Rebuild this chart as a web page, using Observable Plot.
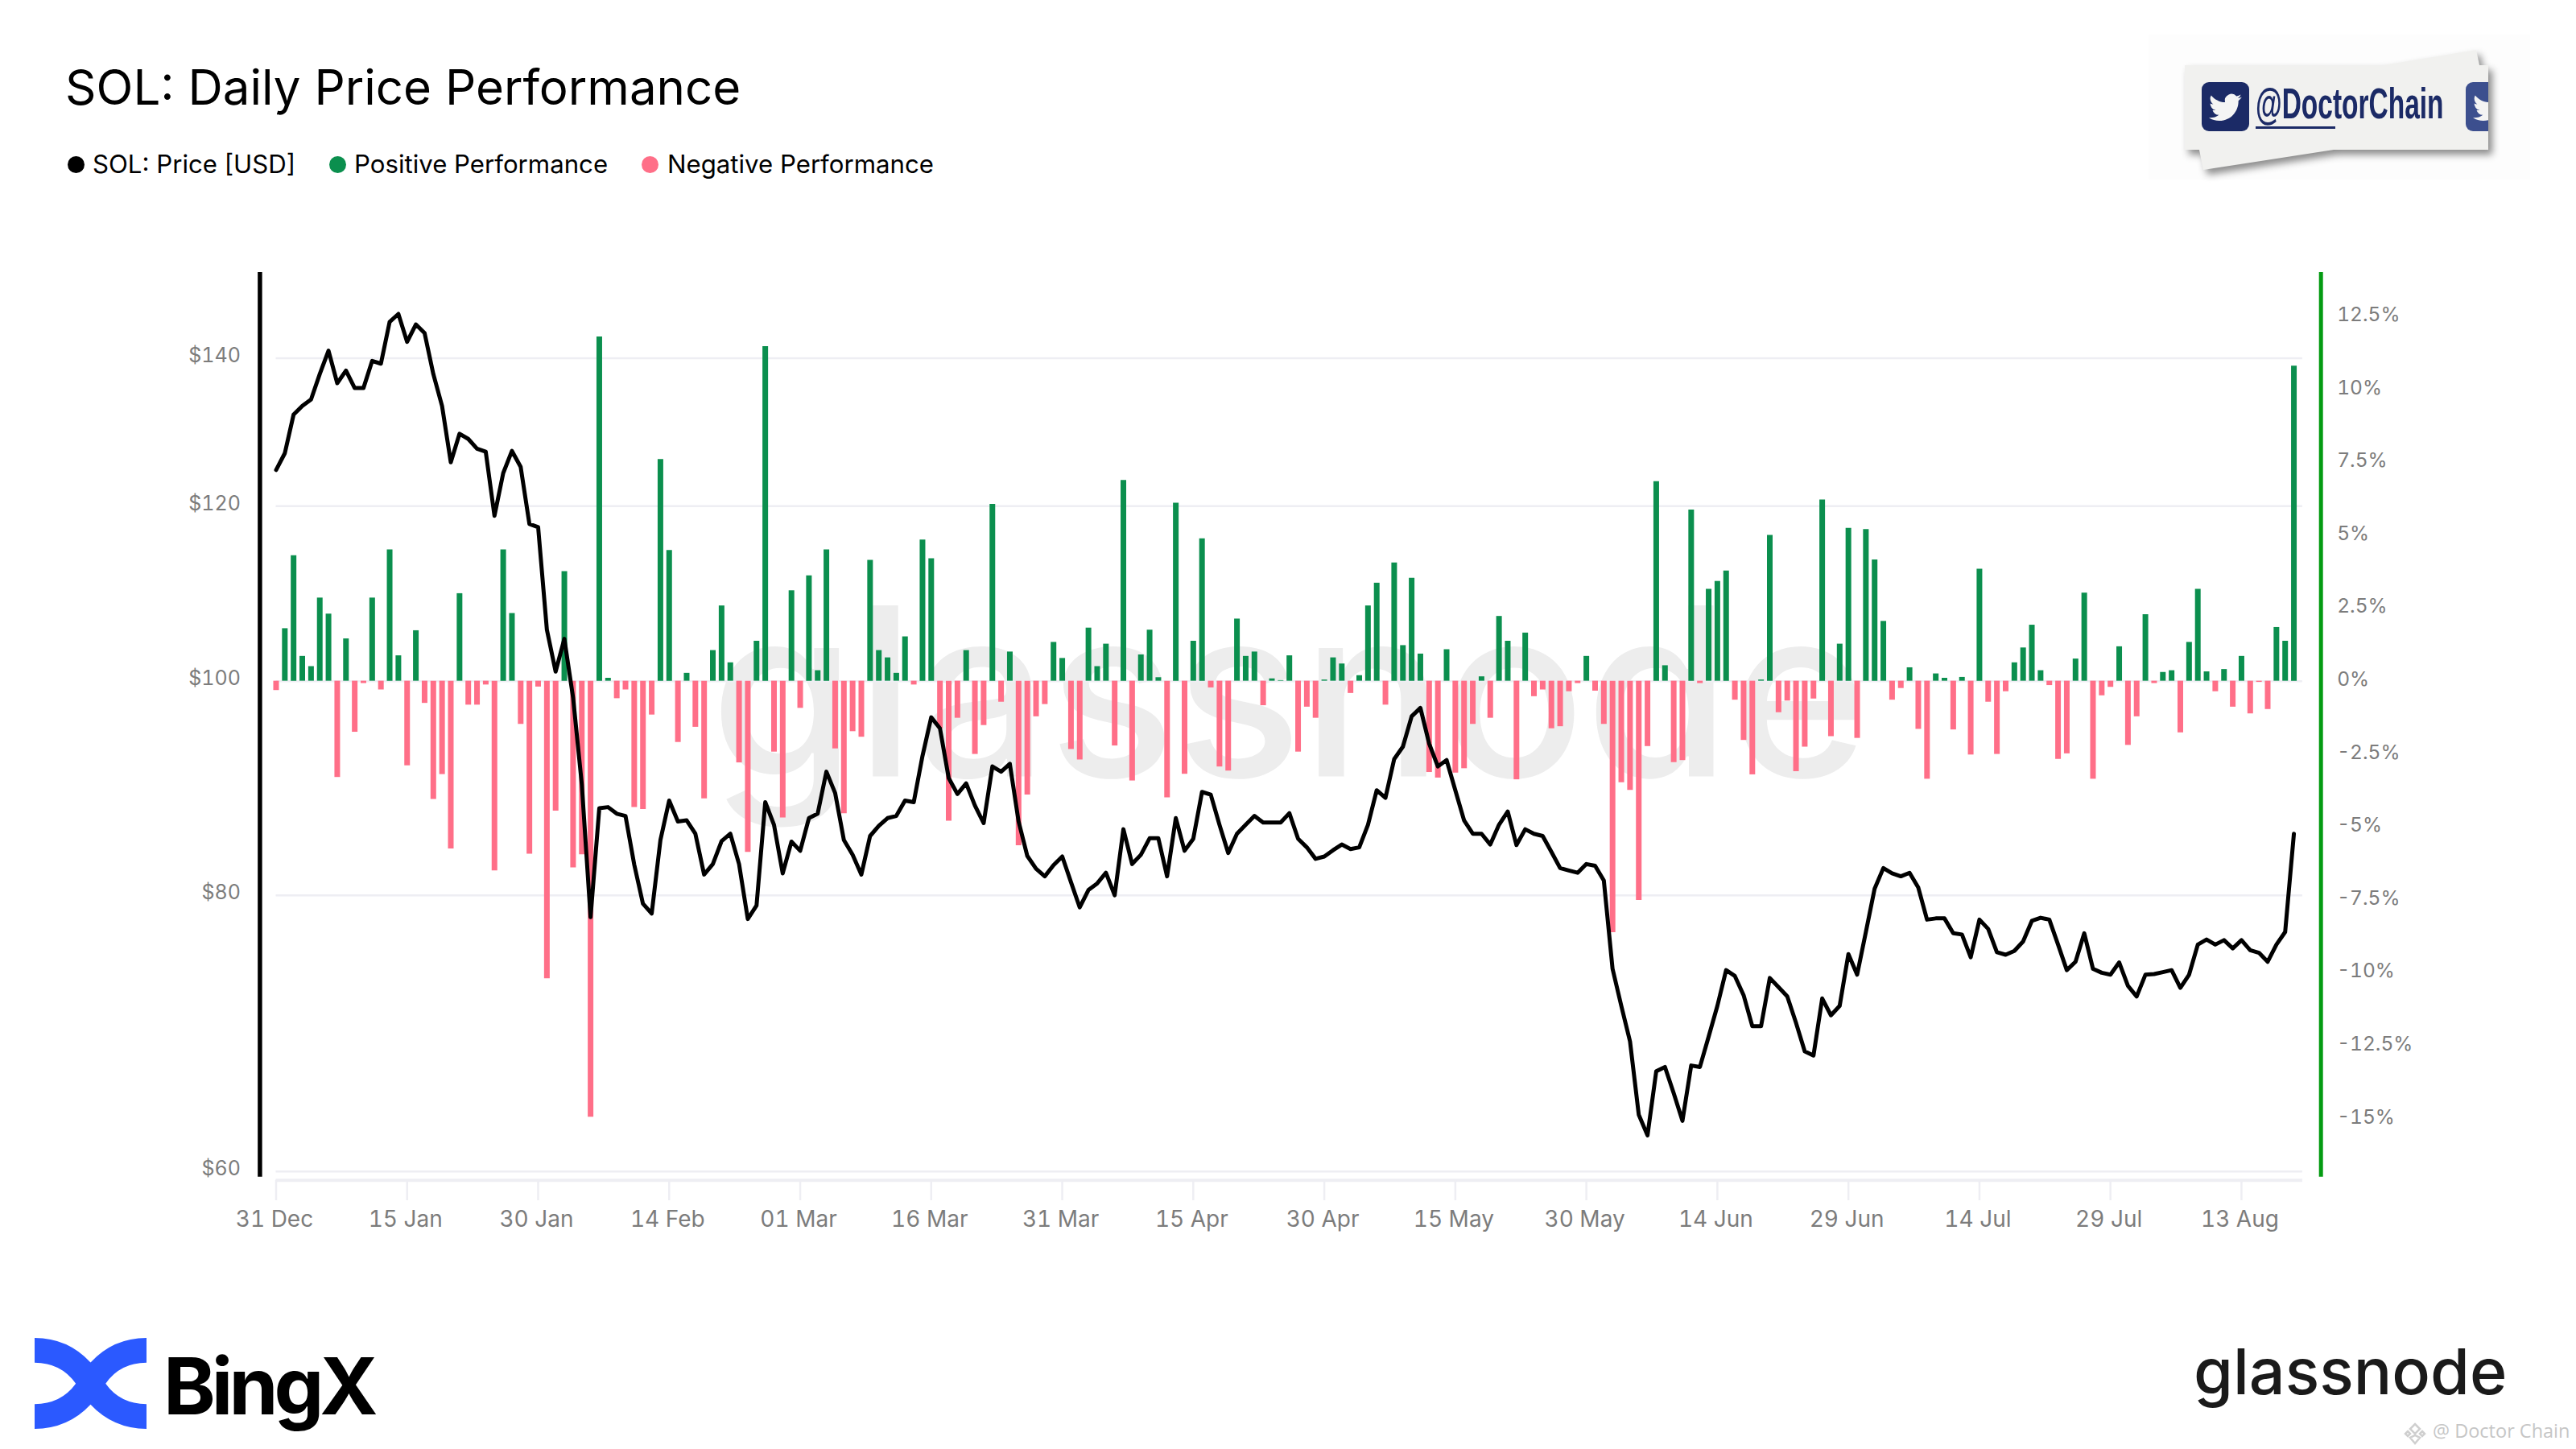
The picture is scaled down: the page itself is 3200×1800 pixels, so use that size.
<!DOCTYPE html>
<html>
<head>
<meta charset="utf-8">
<script src="https://cdn.jsdelivr.net/npm/d3@7"></script>
<script src="https://cdn.jsdelivr.net/npm/@observablehq/plot@0.6"></script>
<style>
html,body{margin:0;padding:0;background:#fff;}
#page{position:relative;width:3200px;height:1800px;overflow:hidden;font-family:Inter,sans-serif;color:#000;}
.abs{position:absolute;white-space:nowrap;line-height:1;}
.dot{position:absolute;width:21px;height:21px;border-radius:50%;top:194px;}
#chart{position:absolute;left:0;top:280px;}
#chart svg{display:block;max-width:none;background:transparent;}
</style>
</head>
<body>
<div id="page">
  <div class="abs" style="left:81px;top:78px;font-size:60px;">SOL: Daily Price Performance</div>
  <div class="dot" style="left:84px;background:#000"></div>
  <div class="abs" style="left:115px;top:189px;font-size:31.2px;">SOL: Price [USD]</div>
  <div class="dot" style="left:409px;background:#0b8f4e"></div>
  <div class="abs" style="left:440px;top:189px;font-size:31.2px;">Positive Performance</div>
  <div class="dot" style="left:797px;background:#ff6f88"></div>
  <div class="abs" style="left:829px;top:189px;font-size:31.2px;">Negative Performance</div>

  <!-- sticker -->
  <div class="abs" style="left:2669px;top:43px;width:474px;height:180px;background:#fdfdfd"></div>
  <svg class="abs" style="left:2669px;top:43px;filter:drop-shadow(5px 6px 5px rgba(0,0,0,.45))" width="474" height="180" viewBox="2669 43 474 180">
    <polygon fill="#f1f1ef" points="2732,186 2737,211 2899,186"/>
    <polygon fill="#f1f1ef" points="2960,81 3076,62 3080,81"/>
    <rect fill="#f1f1ef" x="2714" y="81" width="377" height="105"/>
  </svg>
  <svg class="abs" style="left:2735px;top:102px" width="59" height="61" viewBox="0 0 59 61">
    <rect width="59" height="61" rx="9" fill="#1b2a66"/>
    <g transform="translate(9,11) scale(1.7)"><path fill="#f4f4f4" d="M23.953 4.57a10 10 0 01-2.825.775 4.958 4.958 0 002.163-2.723c-.951.555-2.005.959-3.127 1.184a4.92 4.92 0 00-8.384 4.482C7.69 8.095 4.067 6.13 1.64 3.162a4.822 4.822 0 00-.666 2.475c0 1.71.87 3.213 2.188 4.096a4.904 4.904 0 01-2.228-.616v.06a4.923 4.923 0 003.946 4.827 4.996 4.996 0 01-2.212.085 4.936 4.936 0 004.604 3.417 9.867 9.867 0 01-6.102 2.105c-.39 0-.779-.023-1.17-.067a13.995 13.995 0 007.557 2.209c9.053 0 13.998-7.496 13.998-13.985 0-.21 0-.42-.015-.63A9.935 9.935 0 0024 4.59z"/></g>
  </svg>
  <svg class="abs" style="left:3063px;top:102px" width="28" height="61" viewBox="0 0 28 61">
    <rect width="59" height="61" rx="9" fill="#3c4f8e"/>
    <g transform="translate(9,11) scale(1.7)"><path fill="#f4f4f4" d="M23.953 4.57a10 10 0 01-2.825.775 4.958 4.958 0 002.163-2.723c-.951.555-2.005.959-3.127 1.184a4.92 4.92 0 00-8.384 4.482C7.69 8.095 4.067 6.13 1.64 3.162a4.822 4.822 0 00-.666 2.475c0 1.71.87 3.213 2.188 4.096a4.904 4.904 0 01-2.228-.616v.06a4.923 4.923 0 003.946 4.827 4.996 4.996 0 01-2.212.085 4.936 4.936 0 004.604 3.417 9.867 9.867 0 01-6.102 2.105c-.39 0-.779-.023-1.17-.067a13.995 13.995 0 007.557 2.209c9.053 0 13.998-7.496 13.998-13.985 0-.21 0-.42-.015-.63A9.935 9.935 0 0024 4.59z"/></g>
  </svg>
  <div class="abs" style="left:2802px;top:101px;font-family:'Liberation Sans',sans-serif;font-weight:700;font-size:54px;color:#1b2a66;transform:scaleX(0.62);transform-origin:left top;">@DoctorChain</div>
  <div class="abs" style="left:2802px;top:157px;width:99px;height:3px;background:#1b2a66"></div>

  <div id="chart"></div>

  <!-- footer logos -->
  <svg class="abs" style="left:43px;top:1662px" width="139" height="113" viewBox="112 178 364 330" preserveAspectRatio="none">
    <path fill="#2b59ff" d="M112 178 Q220 178 294 267 Q368 178 476 178 V268 Q390 268 343 344 Q390 418 476 418 V508 Q368 508 294 420 Q220 508 112 508 V418 Q198 418 246 344 Q198 268 112 268Z"/>
  </svg>
  <div class="abs" style="left:203px;top:1673px;font-size:98px;font-weight:700;letter-spacing:-5px;color:#000;">BingX</div>
  <div class="abs" style="left:2725px;top:1664px;font-size:79px;font-weight:500;color:#1a1a1a;">glassnode</div>
  <svg class="abs" style="left:2985px;top:1766px" width="30" height="30" viewBox="0 0 30 30">
    <path fill="none" stroke="#cfcfcf" stroke-width="2.5" d="M15 3 L21 9 L15 15 L9 9Z M6 12 L9 15 L6 18 L3 15Z M24 12 L27 15 L24 18 L21 15Z M15 27 L9 20 L15 17 L21 20Z"/>
  </svg>
  <div class="abs" style="left:3022px;top:1766px;font-family:'Open Sans',sans-serif;font-size:23.5px;color:#c6c6c6;">@ Doctor Chain</div>
</div>

<script>
// Values
const startDate = new Date(Date.UTC(2022, 11, 31));
const priceUSD = [
124.6,126.8,132,133.2,134.1,137.7,141.1,136.4,138.2,135.7,
135.7,139.6,139.2,145.4,146.6,142.4,145,143.7,137.7,133.2,
125.6,129.4,128.7,127.4,127,118.8,124.2,127.1,125,117.8,
117.4,105.5,101,104.5,98.3,89.8,78.2,87.6,87.7,87.1,
86.9,82.6,79.3,
78.5,84.75,88.3,86.4,86.5,85.3,81.75,82.65,84.65,85.3,
82.65,78.05,79.15,88.15,86.1,81.85,84.6,83.8,86.7,87.1,
91,89,84.75,83.45,81.75,85.1,86,86.7,86.9,88.3,
88.15,92.5,96.3,95.2,90.4,88.9,89.9,87.85,86.25,91.5,
91,91.75,86.4,83.35,82.25,81.6,82.55,83.3,81.1,79,
80.45,81,81.9,80,85.7,82.65,83.45,84.9,84.9,81.6,
86.7,83.8,84.85,89.1,88.85,86.1,83.6,85.3,86.1,86.9,
86.3,86.3,86.3,87.15,
84.85,84.1,83.1,83.3,83.85,84.35,83.95,84.1,86.1,89.25,
88.55,92.2,93.4,96.4,97.25,93.7,91.5,92.1,89.25,86.5,
85.3,85.3,84.35,86.1,87.3,84.3,85.7,85.3,85.1,83.7,
82.3,82.1,81.9,82.65,82.5,81.25,74.1,71.3,68.7,63.65,
62.3,66.6,66.9,65.1,63.25,67,66.9,69.05,71.3,74,
73.55,72.1,69.8,69.8,73.4,72.7,72,70.05,68,67.7,
71.85,70.6,71.3,75.25,73.65,77,80.55,82.3,81.85,81.6,
81.9,80.65,78,
78.1,78.1,76.9,76.8,75,78,77.25,75.4,75.2,75.5,
76.25,77.9,78.15,78,76,74,74.65,76.9,74.1,73.8,
73.65,74.6,72.8,72,73.65,73.7,73.85,74,72.65,73.65,
76,76.4,76,76.35,75.7,76.35,75.55,75.35,74.65,76,
77,85.3
];
const changePct = [
-0.32,1.8,4.3,0.85,0.5,2.85,2.3,-3.3,1.45,-1.75,
-0.08,2.85,-0.3,4.5,0.87,-2.9,1.73,-0.76,-4.05,-3.2,
-5.75,3,-0.82,-0.82,-0.13,-6.5,4.5,2.32,-1.48,-5.93,
-0.2,-10.2,-4.45,3.76,-6.4,-5.95,-14.95,11.8,0.1,-0.6,
-0.3,-4.33,-4.4,
-1.16,7.6,4.48,-2.1,0.27,-1.58,-4.03,1.05,2.58,0.63,
-2.8,-5.87,1.37,11.47,-2.43,-4.69,3.1,-0.93,3.61,0.36,
4.5,-2.32,-4.54,-1.73,-1.92,4.14,1.05,0.8,0.27,1.52,
-0.13,4.84,4.2,-1.63,-4.8,-1.27,1.05,-2.51,-1.52,6.06,
-0.72,1,-5.64,-3.9,-1.22,-0.8,1.33,0.78,-2.34,-2.7,
1.82,0.5,1.27,-2.22,6.88,-3.42,0.9,1.75,0.12,-4,
6.1,-3.19,1.37,4.88,-0.23,-2.94,-3.08,2.13,0.85,1,
-0.84,0.08,0.02,0.87,
-2.43,-0.89,-1.27,0.04,0.8,0.59,-0.42,0.19,2.58,3.36,
-0.82,4.05,1.22,3.53,0.93,-3.13,-3.32,1.08,-3.15,-3,
-1.48,0.15,-1.27,2.22,1.37,-3.38,1.65,-0.53,-0.3,-1.63,
-1.56,-0.36,-0.08,0.85,-0.34,-1.48,-8.62,-3.48,-3.74,-7.52,
-2.24,6.84,0.53,-2.79,-2.72,5.87,-0.08,3.15,3.42,3.78,
-0.65,-2.03,-3.21,0.04,5,-1.08,-0.68,-3.1,-2.26,-0.61,
6.21,-1.9,1.27,5.24,-1.96,5.2,4.16,2.05,-0.65,-0.25,
0.46,-1.65,-3.36,
0.25,0.1,-1.67,0.13,-2.53,3.84,-0.72,-2.51,-0.36,0.63,
1.14,1.92,0.36,-0.15,-2.68,-2.49,0.76,3.02,-3.36,-0.5,
-0.21,1.18,-2.2,-1.22,2.28,-0.08,0.3,0.36,-1.77,1.33,
3.15,0.32,-0.36,0.4,-0.89,0.85,-1.12,-0.04,-0.97,1.84,
1.37,10.8
];
const priceTicks = [60, 80, 100, 120, 140];
const pctTicks = [12.5, 10, 7.5, 5, 2.5, 0, -2.5, -5, -7.5, -10, -12.5, -15];
const xTickDays = [0,15,30,45,60,75,90,105,120,135,150,165,180,195,210,225];

// Both axes share one plot: the percent axis is linear in log-price space.
const pctScale = 0.03039;
const pctToPrice = p => 100 * Math.exp(p * pctScale);
const priceToPct = v => Math.round(Math.log(v / 100) / pctScale * 10) / 10;
const dayDate = d => new Date(startDate.getTime() + d * 864e5);

const rows = priceUSD.map((price, i) => ({date: dayDate(i), price, pct: changePct[i]}));
const up = rows.filter(d => d.pct >= 0);
const down = rows.filter(d => d.pct < 0);

const axisColor = "#7c7c7c", gridColor = "#eeeef3";
const gridX1 = dayDate(0), gridX2 = dayDate(232);
const chart = Plot.plot({
  width: 3200,
  height: 1270,
  marginTop: 58,
  marginBottom: 88.3,
  marginLeft: 322.4,
  marginRight: 317.3,
  style: {background: "transparent", fontFamily: "Inter, sans-serif", overflow: "visible"},
  x: {type: "utc", domain: [dayDate(-1.85), dayDate(234.1)]},
  y: {type: "log", domain: [59.65, 153.07]},
  marks: [
    Plot.text(["glassnode"], {
      x: () => dayDate(116), y: () => 90.55, text: d => d,
      fontSize: 292, fontWeight: 500, fill: "#ededed", textAnchor: "middle", lineAnchor: "bottom"
    }),
    Plot.ruleY(priceTicks, {x1: gridX1, x2: gridX2, stroke: gridColor, strokeWidth: 2.5}),
    Plot.ruleY([59.45], {x1: gridX1, x2: gridX2, stroke: gridColor, strokeWidth: 4}),
    Plot.ruleX(xTickDays.map(dayDate), {y1: 59.45, y2: 58.2, stroke: gridColor, strokeWidth: 2.5}),
    Plot.ruleX(up, {x: "date", y1: 100, y2: d => pctToPrice(d.pct), stroke: "#0b8f4e", strokeWidth: 7}),
    Plot.ruleX(down, {x: "date", y1: 100, y2: d => pctToPrice(d.pct), stroke: "#ff6f88", strokeWidth: 7}),
    Plot.line(rows, {x: "date", y: "price", stroke: "#000", strokeWidth: 5}),
    Plot.ruleX([dayDate(-1.85)], {stroke: "#000", strokeWidth: 5.5}),
    Plot.ruleX([dayDate(234.1)], {stroke: "#049b12", strokeWidth: 5}),
    Plot.axisY(priceTicks, {anchor: "left", tickSize: 0, tickPadding: 24, label: null, dy: -3,
      tickFormat: d => `$${d}`, fontSize: 25, fill: axisColor}),
    Plot.axisY(pctTicks.map(pctToPrice), {anchor: "right", tickSize: 0, tickPadding: 20, label: null, dy: -2,
      tickFormat: v => `${priceToPct(v)}%`, fontSize: 24.5, fill: axisColor}),
    Plot.axisX(xTickDays.map(dayDate), {anchor: "bottom", tickSize: 0, tickPadding: 42, dx: -2, label: null,
      tickFormat: d3.utcFormat("%d %b"), fontSize: 28, fill: axisColor, color: axisColor})
  ]
});
document.getElementById("chart").appendChild(chart);
</script>
</body>
</html>
